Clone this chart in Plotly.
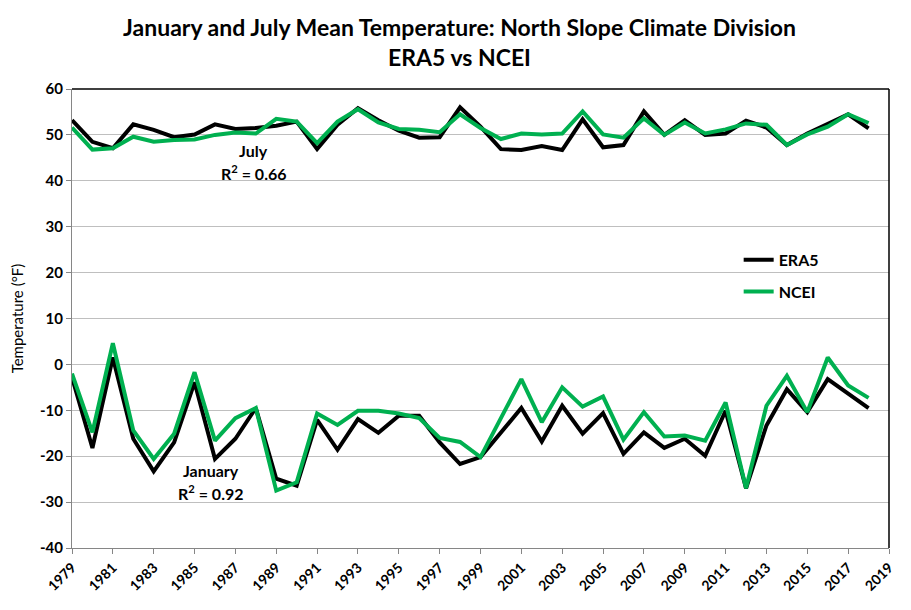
import plotly.graph_objects as go

years = list(range(1979, 2019))

july_era5 = [53.2, 48.5, 47.1, 52.3, 51.1, 49.5, 50.1, 52.3, 51.3, 51.5,
             52.0, 52.9, 46.9, 52.2, 55.8, 53.2, 50.9, 49.4, 49.5, 56.0,
             51.8, 46.9, 46.7, 47.6, 46.7, 53.4, 47.3, 47.8, 55.1, 50.0,
             53.2, 50.0, 50.3, 53.1, 51.6, 47.8, 50.3, 52.5, 54.5, 51.4]
july_ncei = [51.6, 46.8, 47.1, 49.6, 48.5, 48.9, 49.0, 50.0, 50.5, 50.3,
             53.5, 52.9, 48.2, 52.9, 55.6, 52.7, 51.3, 51.1, 50.6, 54.5,
             51.5, 49.1, 50.3, 50.1, 50.3, 55.1, 50.1, 49.4, 53.6, 50.0,
             52.7, 50.3, 51.2, 52.5, 52.2, 47.8, 50.1, 51.8, 54.5, 52.6]
jan_era5 = [-2.8, -18.2, 1.5, -16.2, -23.3, -17.0, -3.9, -20.6, -16.2, -9.5,
            -24.9, -26.4, -12.1, -18.6, -11.9, -14.9, -11.2, -11.2, -17.0, -21.7,
            -20.2, -15.0, -9.5, -16.8, -9.0, -15.1, -10.6, -19.5, -14.8, -18.2,
            -16.2, -19.9, -10.1, -27.0, -13.3, -5.4, -10.4, -3.2, -6.3, -9.5]
jan_ncei = [-2.0, -14.8, 4.6, -14.4, -20.6, -15.1, -1.7, -16.6, -11.7, -9.5,
            -27.5, -25.7, -10.7, -13.2, -10.1, -10.1, -10.7, -11.7, -16.0, -16.9,
            -20.2, -11.7, -3.2, -12.6, -5.0, -9.2, -7.0, -16.4, -10.4, -15.7,
            -15.5, -16.6, -8.3, -27.0, -9.0, -2.5, -10.4, 1.5, -4.6, -7.3]

tick_years = list(range(1979, 2020, 2))
y_ticks = list(range(-40, 61, 10))

BLACK = "#000000"
GREEN = "#00B050"
FONT = "Lato"

fig = go.Figure()
fig.add_trace(go.Scatter(x=years, y=july_era5, mode="lines", name="<b>ERA5</b>",
                         line=dict(color=BLACK, width=4), legendgroup="era5"))
fig.add_trace(go.Scatter(x=years, y=jan_era5, mode="lines", name="<b>ERA5</b>",
                         line=dict(color=BLACK, width=4), legendgroup="era5",
                         showlegend=False))
fig.add_trace(go.Scatter(x=years, y=july_ncei, mode="lines", name="<b>NCEI</b>",
                         line=dict(color=GREEN, width=4), legendgroup="ncei"))
fig.add_trace(go.Scatter(x=years, y=jan_ncei, mode="lines", name="<b>NCEI</b>",
                         line=dict(color=GREEN, width=4), legendgroup="ncei",
                         showlegend=False))

fig.update_layout(
    width=903, height=602,
    paper_bgcolor="white", plot_bgcolor="white",
    margin=dict(l=64, r=22, t=81, b=62, autoexpand=False),
    font=dict(family=FONT, color="black"),
    title=dict(
        text="<b>January and July Mean Temperature: North Slope Climate Division</b><br><b>ERA5 vs NCEI</b>",
        x=0.5, xanchor="center", xref="container", y=0.9535, yanchor="top", yref="container",
        font=dict(family=FONT, size=23, color="black"),
    ),
    showlegend=True,
    legend=dict(x=0.816, y=0.665, xanchor="left", yanchor="top",
                bgcolor="rgba(0,0,0,0)", font=dict(family=FONT, size=16, color="black"),
                tracegroupgap=8, itemwidth=30),
    xaxis=dict(
        range=[1979, 2019], tickmode="array", tickvals=tick_years,
        ticktext=[f"<b>{t}</b>" for t in tick_years],
        tickangle=-45, ticks="outside", ticklen=5, tickcolor="#868686",
        showline=True, linecolor="#868686", linewidth=1,
        showgrid=False, zeroline=False, automargin=False,
        tickfont=dict(family=FONT, size=14, color="black"),
    ),
    yaxis=dict(
        range=[-40, 60], tickmode="array", tickvals=y_ticks,
        ticktext=[f"<b>{t}</b>" for t in y_ticks],
        ticks="outside", ticklen=5, tickcolor="#868686",
        showline=True, linecolor="#868686", linewidth=1,
        showgrid=True, gridcolor="#BFBFBF", gridwidth=1, zeroline=False,
        automargin=False,
        tickfont=dict(family=FONT, size=15, color="black"),
        title=dict(text="Temperature (°F)", font=dict(family=FONT, size=15, color="black"),
                   standoff=20),
    ),
)

# plot-area border on top and right
fig.add_shape(type="line", xref="paper", yref="paper", x0=0, x1=1, y0=1, y1=1,
              line=dict(color="black", width=1.5))
fig.add_shape(type="line", xref="paper", yref="paper", x0=1, x1=1, y0=0, y1=1,
              line=dict(color="black", width=1.5))

ann_font = dict(family=FONT, size=16, color="black")
fig.add_annotation(x=1987.9, y=46.7, text="<b>July</b>", showarrow=False, font=ann_font)
fig.add_annotation(x=1987.9, y=41.9, text="<b>R<sup>2</sup> = 0.66</b>", showarrow=False, font=ann_font)
fig.add_annotation(x=1985.8, y=-23.2, text="<b>January</b>", showarrow=False, font=ann_font)
fig.add_annotation(x=1985.8, y=-28.0, text="<b>R<sup>2</sup> = 0.92</b>", showarrow=False, font=ann_font)

fig.write_html("out.html")
